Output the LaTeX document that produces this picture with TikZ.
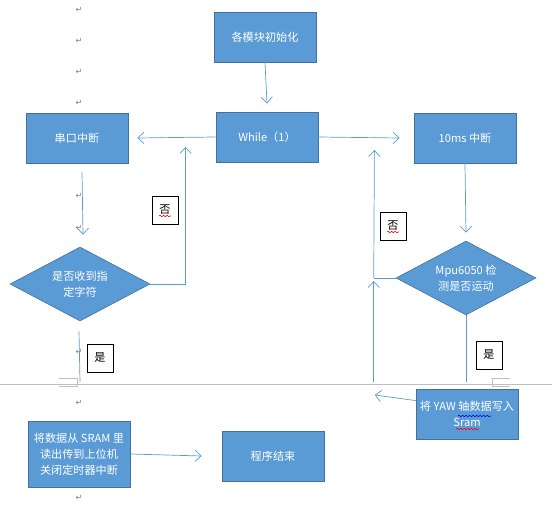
\documentclass[tikz,border=0pt]{standalone}
\usepackage{fontspec}
\setmainfont{Noto Sans CJK SC}
\newfontfamily\markfont{DejaVu Sans}
\usetikzlibrary{shapes.geometric,arrows.meta,calc,decorations.pathmorphing}
\tikzset{>={Straight Barb[length=1.8mm,width=3.4mm]}}
\definecolor{boxfill}{HTML}{5B9BD5}
\definecolor{boxline}{HTML}{41719C}
\definecolor{flowline}{HTML}{5B9BD5}
\definecolor{breakgray}{HTML}{BFBFBF}

\begin{document}
\begin{tikzpicture}[x=0.03cm, y=-0.03cm,
    every node/.style={font=\fontsize{9.5}{13.5}\selectfont},
    block/.style={draw=boxline, fill=boxfill, text=white, line width=0.7pt,
      minimum width=3.06cm, minimum height=1.5cm, align=center, inner sep=1pt},
    decision/.style={diamond, draw=boxline, fill=boxfill, text=white, line width=0.5pt,
      minimum width=4.2cm, minimum height=2.22cm, aspect=1.9, align=center, inner sep=0pt},
    tag/.style={draw=black, fill=white, line width=0.6pt,
      minimum width=0.78cm, minimum height=0.84cm, inner sep=0pt},
    flow/.style={flowline, line width=0.6pt},
    pmark/.style={text=gray, inner sep=0pt, font=\markfont\fontsize{7}{7}\selectfont},
    pgline/.style={breakgray, line width=0.8pt},
    squig/.style={line width=0.5pt, decorate,
      decoration={snake, amplitude=0.6pt, segment length=3pt}}]
  \useasboundingbox (0,0) rectangle (552,515);

  % paragraph marks of the page
  \foreach \y [count=\i] in {10,41,72,103,196,228,352,403,498}
    \node[pmark] (pm\i) at (79,\y) {↵};

  % page break
  \draw[pgline] (0,384) -- (552,384);
  \draw[breakgray, line width=0.6pt] (59,378) -- (77,378) -- (77,386) -- (59,386);
  \draw[breakgray, line width=0.6pt] (510,378) -- (492,378) -- (492,386) -- (510,386);
  \coordinate (pg) at (0,382);

  % boxes
  \node[block] (init) at (265,37) {各模块初始化};
  \node[block] (while) at (267,137) {While（1）};
  \node[block] (uart) at (77,138) {串口中断};
  \node[block] (tick) at (465,138) {10ms 中断};
  \node[decision] (gotchar) at (80,284) {是否收到指\\定字符};
  \node[decision] (moving) at (466,278) {Mpu6050 检\\测是否运动};
  \node[block, minimum height=1.98cm] (send) at (79,454) {将数据从 SRAM 里\\读出传到上位机\\关闭定时器中断};
  \node[block] (stop) at (273,456) {程序结束};
  \node[block] (yaw) at (467,414) {将 YAW 轴数据写入\\Sram};

  % yes / no tags
  \node[tag] (noL) at (165,210) {否};
  \node[tag] (noR) at (393,226) {否};
  \node[tag] (yesL) at (100,358) {是};
  \node[tag] (yesR) at (489,355) {是};
  \draw[red, squig] ($(noL.center)+(-6,6)$) -- ++(12,0);
  \draw[red, squig] ($(noR.center)+(-6,6)$) -- ++(12,0);
  \draw[blue, squig] ($(yaw.center)+(-9,2)$) -- ++(33,0);
  \draw[red, squig] ($(yaw.center)+(-11,15)$) -- ++(23,0);

  % connectors
  \draw[flow, ->] (init.south) -- ($(while.north)+(0,-8)$);
  \draw[flow, ->] (while.west) -- ($(uart.east)+(9,0)$);
  \draw[flow, ->] (while.east) -- ($(tick.west)+(-14,0)$);
  \draw[flow, ->] ($(uart.south)+(5,9)$) -- ($(gotchar.north)+(3,-12)$);
  \draw[flow, ->] (gotchar.east) -| ($(while.west)+(-30,10)$);
  \draw[flow] ($(gotchar.south)+(-1,10)$) -- (gotchar.south |- pg);
  \draw[flow, ->] (tick.south) -- ($(moving.north)+(0,-8)$);
  \coordinate (join) at ($(moving.west)+(-22,0)$);
  \draw[flow] (moving.west) -- (join);
  \draw[flow, ->] (join) -- ($(while.east)+(56,13)$);
  \draw[flow, ->] (join |- pg) -- ($(join)+(0,3)$);
  \draw[flow] (moving.south) -- (moving.south |- pg);
  \draw[flow, ->] ($(yaw.north west)+(0,12)$) -- ($(join |- pg)+(1,13)$);
  \draw[flow, ->] (send.east) -- ($(stop.west)+(-20,0)$);
\end{tikzpicture}
\end{document}
